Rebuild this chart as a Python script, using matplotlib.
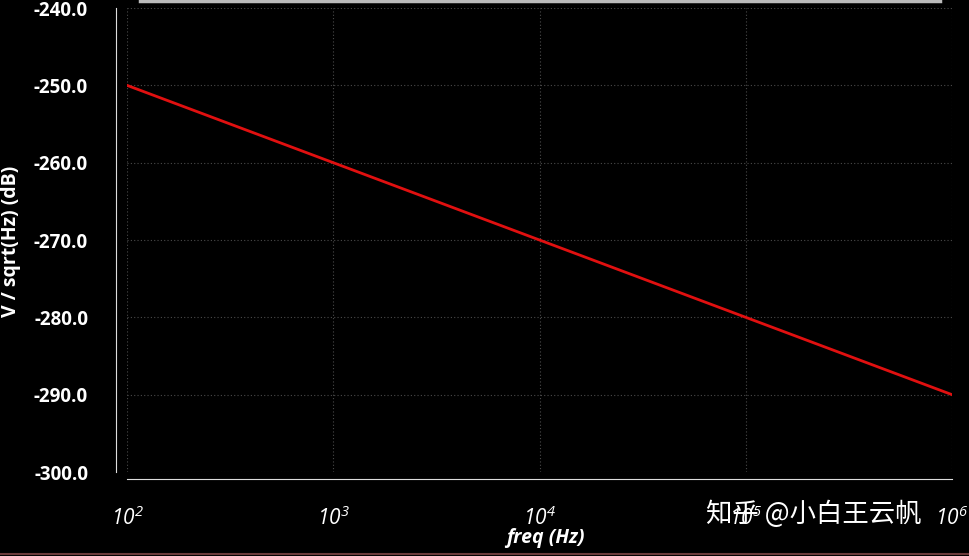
import numpy as np
import matplotlib.pyplot as plt
from matplotlib.lines import Line2D

# --- données ---
freq = [1e2, 1e3, 1e4, 1e5, 1e6]
noise_db = [-250.0, -260.0, -270.0, -280.0, -290.0]
yticks = [-240, -250, -260, -270, -280, -290, -300]
xticks = [1e2, 1e3, 1e4, 1e5, 1e6]
xtick_labels = ["$10^2$", "$10^3$", "$10^4$", "$10^5$", "$10^6$"]

plt.rcParams['font.family'] = ['Open Sans', 'DejaVu Sans']
plt.rcParams['mathtext.fontset'] = 'custom'
plt.rcParams['mathtext.rm'] = 'Open Sans:italic'
plt.rcParams['mathtext.it'] = 'Open Sans:italic'

fig = plt.figure(figsize=(9.7, 5.56), dpi=100, facecolor="black")
W, H = 970, 556
ax = fig.add_axes([127 / W, 1 - 472 / H, (952 - 127) / W, (472 - 8) / H])
ax.set_facecolor("black")

ax.plot(freq, noise_db, color="#e01010", linewidth=2)

ax.set_xscale("log")
ax.set_xlim(1e2, 1e6)
ax.set_ylim(-300, -240)
ax.set_xticks(xticks)
ax.set_xticklabels(xtick_labels)
ax.minorticks_off()
ax.set_yticks(yticks)
ax.set_yticklabels([f"{v:.1f}" for v in yticks])

ax.grid(True, color="#4a4a4a", linestyle=(0, (1, 2)), linewidth=0.8)

for s in ["top", "right"]:
    ax.spines[s].set_visible(False)
ax.spines["left"].set_position(("outward", 8))
ax.spines["bottom"].set_position(("outward", 5))
ax.spines["left"].set_color("#dddddd")
ax.spines["bottom"].set_color("#dddddd")

ax.tick_params(axis="y", length=0, pad=20, colors="white", labelsize=13.5)
ax.tick_params(axis="x", length=0, pad=20, colors="white", labelsize=15)
for lab in ax.get_yticklabels():
    lab.set_fontweight("bold")

ax.set_xlabel("freq (Hz)", color="white", fontsize=14, style="italic",
              fontweight="bold")
ax.set_ylabel("V / sqrt(Hz) (dB)", color="white", fontsize=14,
              fontweight="bold")
ax.xaxis.set_label_coords((545 - 127) / (952 - 127), -(538 - 472) / (472 - 8))
ax.xaxis.label.set_va("center")
ax.yaxis.set_label_coords(-(127 - 11) / (952 - 127), (472 - 241) / (472 - 8))
ax.yaxis.label.set_va("center")

# barre grise en haut et trait bas
fig.add_artist(Line2D([140 / W, 940 / W], [1 - 1 / H, 1 - 1 / H],
                      color="#bbbbbb", linewidth=2.5))
fig.add_artist(Line2D([0, 1], [1 - 554 / H, 1 - 554 / H],
                      color="#6b3a3a", linewidth=1.5))

# filigrane
fig.text(706 / W, 1 - 514 / H, "知乎 @小白王云帆", color="white", fontsize=19,
         family=["Noto Sans CJK SC", "DejaVu Sans"], va="center", ha="left")

fig.savefig("out.png", dpi=100, facecolor="black")
